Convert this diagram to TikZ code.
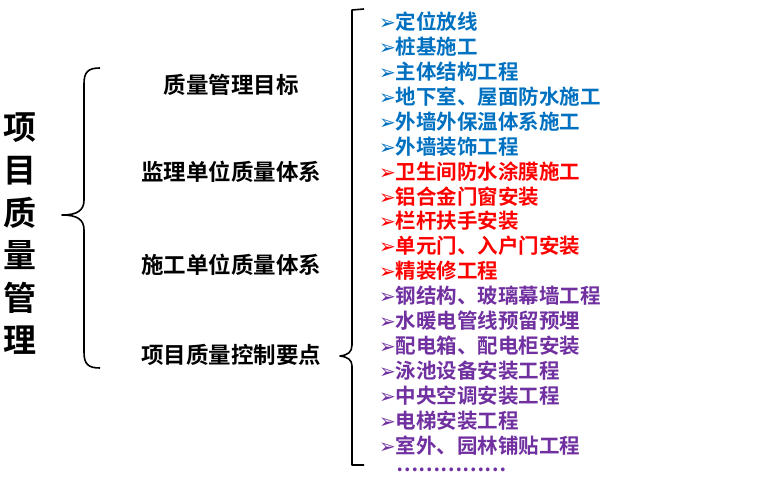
\documentclass[tikz,border=0pt]{standalone}
\usepackage{fontspec}
\setmainfont{Noto Sans CJK SC Bold}
\newfontfamily\symf{DejaVu Sans}
\definecolor{cblue}{HTML}{0070C0}
\definecolor{cred}{HTML}{FF0000}
\definecolor{cpurple}{HTML}{7030A0}
\begin{document}
\begin{tikzpicture}[x=1pt,y=-1pt,
  item/.style={anchor=west,inner sep=0pt,font=\fontsize{20.5}{20}\selectfont},
  mid/.style={inner sep=0pt,font=\fontsize{22.5}{22}\selectfont},
  br/.style={line width=1.6pt,line join=round}]
\useasboundingbox (0,0) rectangle (760,494);
\foreach \t [count=\i] in {项,目,质,量,管,理}
  \node[inner sep=0pt,font=\fontsize{33}{33}\selectfont] (t\i) at (20,{128+42.4*(\i-1)}) {\t};
\node[mid] (m1) at (231,85) {质量管理目标};
\node[mid] (m2) at (231,172) {监理单位质量体系};
\node[mid] (m3) at (231,265) {施工单位质量体系};
\node[mid] (m4) at (231,355) {项目质量控制要点};
% left brace
\draw[br] (100,68) .. controls (88,68) and (84,72) .. (84,84) -- (84,200)
  .. controls (84,210) and (78,215) .. (62,215)
  .. controls (78,215) and (84,220) .. (84,230) -- (84,352)
  .. controls (84,364) and (88,368) .. (100,368);
% right bracket
\draw[br] (364,9) -- (352,10) -- (352,345) .. controls (352,352) and (348,355) .. (340,356)
  .. controls (348,357) and (352,360) .. (352,366) -- (352,465) -- (364,465);
\foreach \t/\c [count=\i] in {定位放线/cblue,桩基施工/cblue,主体结构工程/cblue,地下室、屋面防水施工/cblue,外墙外保温体系施工/cblue,外墙装饰工程/cblue,卫生间防水涂膜施工/cred,铝合金门窗安装/cred,栏杆扶手安装/cred,单元门、入户门安装/cred,精装修工程/cred,钢结构、玻璃幕墙工程/cpurple,水暖电管线预留预埋/cpurple,配电箱、配电柜安装/cpurple,泳池设备安装工程/cpurple,中央空调安装工程/cpurple,电梯安装工程/cpurple,室外、园林铺贴工程/cpurple}
  \node[item,text=\c] (r\i) at (379,{22+24.9*(\i-1)}) {{\symf\bfseries\fontsize{20}{20}\selectfont ➢}\t};
\node[item,text=cpurple,font=\fontsize{20}{20}\selectfont] (dots) at (396,470) {……………};
\end{tikzpicture}
\end{document}
